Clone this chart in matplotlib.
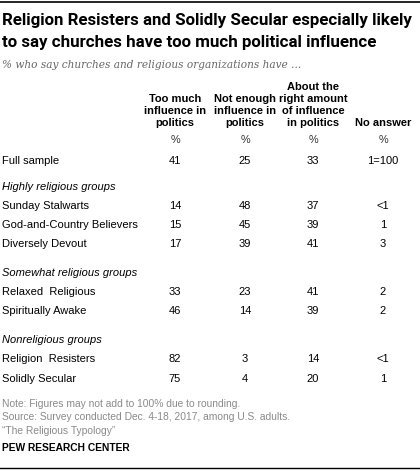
import matplotlib
matplotlib.use("Agg")
import matplotlib.pyplot as plt
from matplotlib import font_manager as fm

W, H = 420, 471
fig = plt.figure(figsize=(W / 100, H / 100), dpi=100)

avail = {f.name for f in fm.fontManager.ttflist}
title_font = "Roboto" if "Roboto" in avail else "Liberation Sans"
sans = "Liberation Sans"
serif = "DejaVu Serif"

title_lines = ["Religion Resisters and Solidly Secular especially likely",
               "to say churches have too much political influence"]
subtitle = "% who say churches and religious organizations have ..."
col_headers = [["Too much", "influence in", "politics"],
               ["Not enough", "influence in", "politics"],
               ["About the", "right amount", "of influence", "in politics"],
               ["No answer"]]
groups = ["", "Highly religious groups", "Somewhat religious groups", "Nonreligious groups"]
row_labels = [["Full sample"],
              ["Sunday Stalwarts", "God-and-Country Believers", "Diversely Devout"],
              ["Relaxed  Religious", "Spiritually Awake"],
              ["Religion  Resisters", "Solidly Secular"]]
too_much = [["41"], ["14", "15", "17"], ["33", "46"], ["82", "75"]]
not_enough = [["25"], ["48", "45", "39"], ["23", "14"], ["3", "4"]]
right_amount = [["33"], ["37", "39", "41"], ["41", "39"], ["14", "20"]]
no_answer = [["1=100"], ["<1", "1", "3"], ["2", "2"], ["<1", "1"]]
notes = ["Note: Figures may not add to 100% due to rounding.",
         "Source: Survey conducted Dec. 4-18, 2017, among U.S. adults.",
         "\u201cThe Religious Typology\u201d"]
source = "PEW RESEARCH CENTER"


def T(x, y, s, **kw):
    return fig.text(x / W, 1 - y / H, s, **kw)


# rules
fig.add_artist(plt.Line2D([0, 1], [1 - 1.5 / H, 1 - 1.5 / H], color="black", lw=1.2))
fig.add_artist(plt.Line2D([0, 1], [1 - 468 / H, 1 - 468 / H], color="black", lw=1.0))

# title, fitted to the reference width
renderer = fig.canvas.get_renderer()
t1 = T(2, 21, title_lines[0], family=title_font, weight="bold", fontsize=12.0,
       va="center", ha="left", color="#000000")
w = t1.get_window_extent(renderer).width
fs = 12.0 * 411.0 / w
t1.set_fontsize(fs)
T(2, 42, title_lines[1], family=title_font, weight="bold", fontsize=fs,
  va="center", ha="left", color="#000000")
T(2, 65, subtitle, family=serif, style="italic", fontsize=7.6,
  va="center", ha="left", color="#666666")

cols_x = [175, 245, 313, 383]
for cx, hdr in zip(cols_x, col_headers):
    n = len(hdr)
    for k, line in enumerate(hdr):
        y = 123 - 12 * (n - 1 - k)
        T(cx, y, line, family=sans, weight="bold", fontsize=8.0, ha="center",
          va="center", color="#000000")
    T(cx, 140, "%", family=sans, fontsize=7.8, ha="center", va="center", color="#333333")

# rows
group_y = [None, 187, 273, 340]
row_y = [[161], [206, 225, 244], [292, 311], [359, 379]]
series = [too_much, not_enough, right_amount, no_answer]
for g in range(len(groups)):
    if groups[g]:
        T(2, group_y[g], groups[g], family=sans, style="italic", fontsize=8.0,
          ha="left", va="center", color="#000000")
    for r, lab in enumerate(row_labels[g]):
        y = row_y[g][r]
        T(2, y, lab, family=sans, fontsize=8.0, ha="left", va="center", color="#000000")
        for cx, ser in zip(cols_x, series):
            T(cx, y, ser[g][r], family=sans, fontsize=8.0, ha="center",
              va="center", color="#000000")

for i, n in enumerate(notes):
    T(2, 404 + 13.5 * i, n, family=sans, fontsize=7.4, ha="left", va="center",
      color="#8a8a8a")
T(2, 448, source, family=sans, weight="bold", fontsize=7.4, ha="left",
  va="center", color="#000000")

fig.savefig("out.png", dpi=100)
